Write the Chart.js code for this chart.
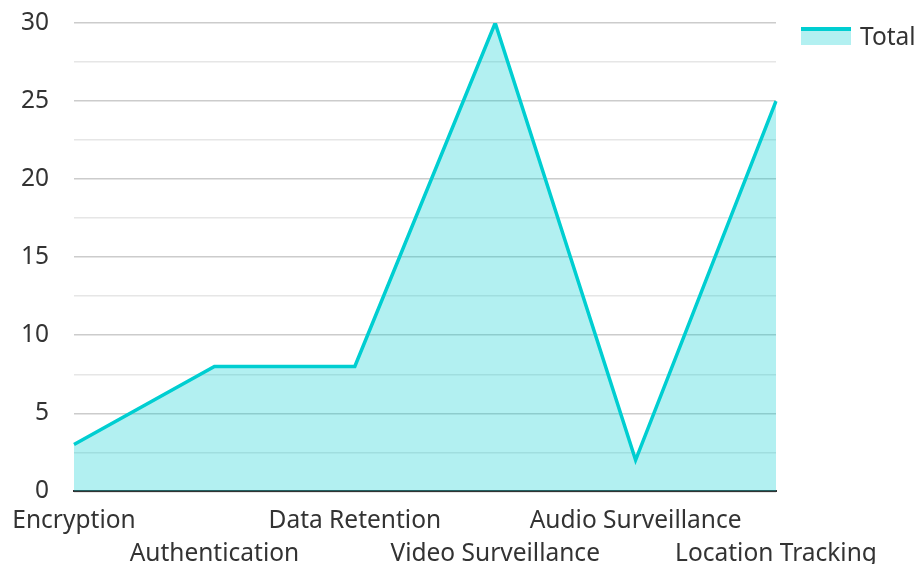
<!DOCTYPE html>
<html>
<head>
<meta charset="utf-8">
<script src="https://cdn.jsdelivr.net/npm/chart.js@4"></script>
<style>
  html, body { margin: 0; padding: 0; background: #fff; overflow: hidden; }
  #wrap { position: relative; width: 917px; height: 576px; }
  #legend { position: absolute; left: 801px; top: 19px; display: flex; align-items: center;
    font-family: "Noto Sans", sans-serif; font-size: 24.5px; color: #333; }
  #legend .box { width: 50px; height: 18px; margin-right: 9px; background: rgba(0,206,209,0.3);
    border-top: 4px solid #00ced1; box-sizing: border-box; }
</style>
</head>
<body>
<div id="wrap">
  <canvas id="chart"></canvas>
  <div id="legend"><span class="box"></span><span>Total</span></div>
</div>
<script>
// categories and values
const categories = ['Encryption', 'Authentication', 'Data Retention', 'Video Surveillance', 'Audio Surveillance', 'Location Tracking'];
const totals = [3, 8, 8, 30, 2, 25];
const seriesName = 'Total';

const lineColor = '#00ced1';
const fillColor = 'rgba(0, 206, 209, 0.3)';

Chart.defaults.font.family = '"Noto Sans", sans-serif';
Chart.defaults.font.size = 24.5;
Chart.defaults.color = '#333';

new Chart(document.getElementById('chart'), {
  type: 'line',
  data: {
    labels: categories,
    datasets: [{
      label: seriesName,
      data: totals,
      borderColor: lineColor,
      backgroundColor: fillColor,
      borderWidth: 3.5,
      fill: 'origin',
      pointRadius: 0,
      tension: 0
    }]
  },
  options: {
    responsive: true,
    maintainAspectRatio: false,
    animation: false,
    layout: { padding: { left: 22, right: 141, top: 23, bottom: 0 } },
    plugins: {
      legend: { display: false },
      tooltip: { enabled: false }
    },
    scales: {
      x: {
        offset: false,
        grid: { display: false },
        border: { display: true, color: '#333', width: 2 },
        afterFit: s => { s.paddingLeft = 0; s.paddingRight = 0; },
        ticks: {
          autoRotate: false,
          maxRotation: 0,
          autoSkip: false,
          padding: 5,
          font: { lineHeight: 1.36 },
          // stagger labels over two rows
          callback: function(value, index) {
            const label = this.getLabelForValue(value);
            return index % 2 === 0 ? [label, ''] : ['', label];
          }
        }
      },
      y: {
        min: 0,
        max: 30,
        border: { display: false },
        afterFit: s => { s.width = 52; s.paddingTop = 0; s.paddingBottom = 0; },
        grid: {
          drawTicks: false,
          color: ctx => (ctx.tick && ctx.tick.value % 5 === 0) ? '#cccccc' : '#e6e6e6',
          lineWidth: 1.5
        },
        ticks: {
          stepSize: 2.5,
          padding: 25,
          callback: v => (v % 5 === 0 ? v : '')
        }
      }
    }
  }
});
</script>
</body>
</html>
